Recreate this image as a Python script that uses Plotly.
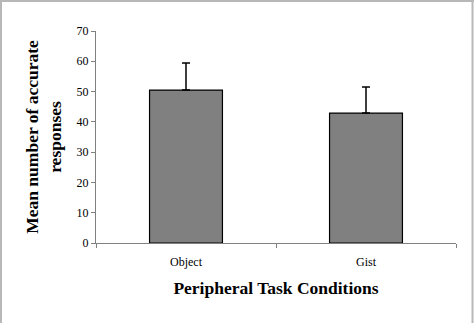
import plotly.graph_objects as go

categories = ["Object", "Gist"]
means = [50.5, 42.9]
errors_plus = [8.9, 8.6]
errors_minus = [0, 0]
y_ticks = [0, 10, 20, 30, 40, 50, 60, 70]

W, H = 474, 323
ML, MR, MT, MB = 96, 18, 31, 80
pw, ph = W - ML - MR, H - MT - MB

fig = go.Figure(go.Bar(
    x=categories, y=means,
    marker=dict(color="#808080", line=dict(color="#000000", width=1.2)),
    width=0.405,
    error_y=dict(type="data", symmetric=False, array=errors_plus, arrayminus=errors_minus,
                 color="#000000", thickness=1.5, width=4),
))

def px_x(p):
    return (p - ML) / pw

def px_y(p):
    return (H - MB - p) / ph

frame = dict(color="#b8b8b8", width=2)
fig.add_shape(type="line", xref="paper", yref="paper", x0=px_x(1), x1=px_x(1), y0=px_y(0), y1=px_y(H), line=frame)
fig.add_shape(type="line", xref="paper", yref="paper", x0=px_x(0), x1=px_x(W), y0=px_y(1), y1=px_y(1), line=frame)
fig.add_shape(type="line", xref="paper", yref="paper", x0=px_x(W - 1.5), x1=px_x(W - 1.5), y0=px_y(0), y1=px_y(H), line=frame)

fig.update_layout(
    width=W, height=H,
    margin=dict(l=ML, r=MR, t=MT, b=MB),
    paper_bgcolor="white", plot_bgcolor="white",
    showlegend=False,
    font=dict(family="Liberation Serif, Times New Roman, serif", color="#000000"),
    xaxis=dict(
        showline=True, linecolor="#808080", linewidth=1,
        ticks="outside", tickson="boundaries", ticklen=4, tickcolor="#808080",
        tickfont=dict(size=12), ticklabelstandoff=8,
        title=dict(text="<b>Peripheral Task Conditions</b>", font=dict(size=17.5), standoff=13),
    ),
    yaxis=dict(
        range=[0, 70], tickvals=y_ticks, showgrid=False, zeroline=False,
        showline=True, linecolor="#808080", linewidth=1,
        ticks="outside", ticklen=4, tickcolor="#808080",
        tickfont=dict(size=12),
        title=dict(text="<b>Mean number of accurate<br>responses</b>", font=dict(size=17.5), standoff=10),
    ),
)

fig.write_html("out.html")
